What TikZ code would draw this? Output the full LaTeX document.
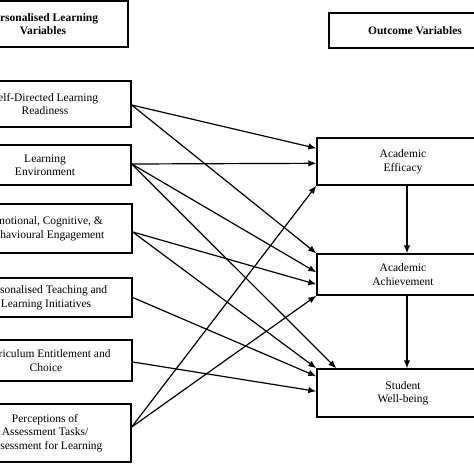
\documentclass[tikz,border=0pt]{standalone}
\usepackage{fontspec}
\setmainfont{Liberation Serif}
\usetikzlibrary{arrows.meta}
\begin{document}
\begin{tikzpicture}[x=1pt,y=-1pt,
  box/.style={draw,line width=1.4pt,rectangle,inner sep=0pt,align=center,
    font=\fontsize{11.5}{13.5}\selectfont},
  head/.style={box,font=\fontsize{11.5}{13.5}\selectfont\bfseries},
  arr/.style={line width=1.2pt,-{Latex[length=8pt,width=6.5pt]}}]
\useasboundingbox (0,0) rectangle (474,474);
\clip (0,0) rectangle (474,474);
\node[head,minimum width=170pt,minimum height=46pt] (hL) at (43,24) {Personalised Learning\\Variables};
\node[head,minimum width=172pt,minimum height=35pt] (hR) at (415,30.5) {Outcome Variables};
\node[box,minimum width=172pt,minimum height=46pt] (b1) at (45,104) {Self-Directed Learning\\Readiness};
\node[box,minimum width=172pt,minimum height=40pt] (b2) at (45,165) {Learning\\Environment};
\node[box,minimum width=172pt,minimum height=49pt] (b3) at (46,228.5) {Emotional, Cognitive, \&\\Behavioural Engagement};
\node[box,minimum width=172pt,minimum height=39pt] (b4) at (46,297.5) {Personalised Teaching and\\Learning Initiatives};
\node[box,minimum width=172pt,minimum height=41pt] (b5) at (46,360.5) {Curriculum Entitlement and\\Choice};
\node[box,minimum width=172pt,minimum height=58pt] (b6) at (45,433) {Perceptions of\\Assessment Tasks/\\Assessment for Learning};
\node[box,minimum width=172pt,minimum height=47pt] (e) at (403,161.5) {Academic\\Efficacy};
\node[box,minimum width=172pt,minimum height=41pt] (a) at (403,274.5) {Academic\\Achievement};
\node[box,minimum width=172pt,minimum height=48pt] (w) at (403,393) {Student\\Well-being};
% arrows to Academic Efficacy
\draw[arr] ([yshift=-1pt]b1.east) -- ([yshift=-11pt]e.north west);
\draw[arr] ([yshift=1pt]b2.east) -- ([yshift=-26pt]e.north west);
\draw[arr] ([yshift=6pt]b6.east) -- (e.south west);
% arrows to Academic Achievement
\draw[arr] ([yshift=-1pt]b1.east) -- (a.north west);
\draw[arr] ([yshift=1pt]b2.east) -- ([yshift=-19pt]a.north west);
\draw[arr] ([yshift=-3.5pt]b3.east) -- ([yshift=-31pt]a.north west);
\draw[arr] ([yshift=6pt]b6.east) -- (a.south west);
% arrows to Student Well-being
\draw[arr] ([yshift=1pt]b2.east) -- ([xshift=20pt]w.north west);
\draw[arr] ([yshift=-3.5pt]b3.east) -- (w.north west);
\draw[arr] (b4.east) -- ([yshift=-8pt]w.north west);
\draw[arr] ([yshift=-1.5pt]b5.east) -- ([yshift=-23pt]w.north west);
% vertical arrows
\draw[arr] ([xshift=4pt]e.south) -- ([xshift=4pt]a.north);
\draw[arr] ([xshift=4pt]a.south) -- ([xshift=4pt]w.north);
\end{tikzpicture}
\end{document}
